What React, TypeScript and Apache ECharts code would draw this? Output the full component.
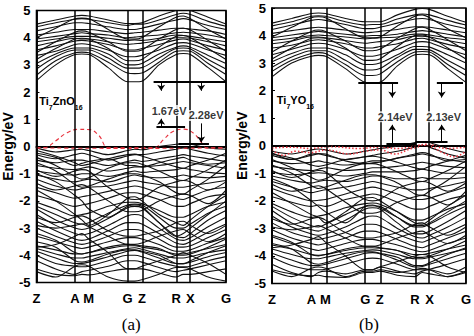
import { useEffect, useRef } from 'react';
import * as echarts from 'echarts';

// High-symmetry path (fractional position along the k-path)
const kLabels = ['Z', 'A', 'M', 'G', 'Z', 'R', 'X', 'G'];
const kNodes = [0, 0.203, 0.276, 0.481, 0.556, 0.737, 0.812, 1];
// sample points: nodes and the middle of every segment
const kGrid = [0, 0.1015, 0.203, 0.2395, 0.276, 0.3785, 0.481, 0.5185, 0.556, 0.6465, 0.737, 0.7745, 0.812, 0.906, 1];

// ---------- (a) Ti7ZnO16 ----------
const condA = [
  [2.42, 3.0, 3.38, 3.4, 3.38, 2.9, 2.38, 2.38, 2.4, 3.0, 3.38, 3.42, 3.38, 2.9, 2.38],
  [2.62, 3.15, 3.45, 3.47, 3.45, 3.1, 2.7, 2.68, 2.7, 3.1, 3.5, 3.52, 3.5, 3.05, 2.65],
  [2.85, 3.3, 3.55, 3.55, 3.55, 3.25, 2.88, 2.88, 2.9, 3.25, 3.6, 3.62, 3.58, 3.2, 2.85],
  [3.05, 3.4, 3.62, 3.62, 3.62, 3.4, 3.0, 3.0, 3.05, 3.4, 3.65, 3.7, 3.65, 3.35, 3.05],
  [3.35, 3.5, 3.75, 3.78, 3.75, 3.55, 3.3, 3.3, 3.35, 3.55, 3.8, 3.82, 3.78, 3.55, 3.35],
  [3.55, 3.7, 3.88, 3.9, 3.88, 3.75, 3.55, 3.55, 3.6, 3.75, 3.92, 3.95, 3.9, 3.7, 3.55],
  [3.7, 3.85, 3.98, 3.95, 3.95, 3.85, 3.75, 3.78, 3.8, 3.9, 4.0, 4.0, 3.98, 3.85, 3.7],
  [3.85, 3.95, 4.05, 4.05, 4.05, 3.98, 3.9, 3.92, 3.9, 3.98, 4.1, 4.08, 4.05, 3.95, 3.85],
  [3.95, 4.05, 4.15, 4.18, 4.15, 4.1, 4.0, 4.02, 4.05, 4.1, 4.18, 4.2, 4.18, 4.1, 3.98],
  [4.1, 4.2, 4.3, 4.3, 4.3, 4.22, 4.15, 4.18, 4.2, 4.28, 4.35, 4.35, 4.32, 4.25, 4.12],
  [4.25, 4.4, 4.55, 4.55, 4.52, 4.4, 4.3, 4.3, 4.35, 4.5, 4.65, 4.7, 4.65, 4.45, 4.3],
  [4.4, 4.55, 4.68, 4.7, 4.68, 4.55, 4.45, 4.5, 4.5, 4.65, 4.85, 4.9, 4.85, 4.6, 4.42],
  [4.5, 4.65, 4.8, 4.82, 4.8, 4.65, 4.52, 4.52, 4.55, 4.8, 5.0, 5.05, 5.0, 4.75, 4.5],
  [3.2, 3.6, 3.95, 3.98, 3.95, 3.6, 3.15, 3.15, 3.2, 3.65, 4.05, 4.08, 4.0, 3.6, 3.2],
  [3.45, 3.85, 4.2, 4.25, 4.2, 3.85, 3.5, 3.5, 3.55, 3.95, 4.3, 4.35, 4.28, 3.9, 3.5],
  [4.0, 4.35, 4.7, 4.72, 4.7, 4.3, 3.95, 3.95, 4.0, 4.4, 4.75, 4.8, 4.7, 4.3, 3.95],
];
const valA = [
  [-0.05, -0.2, -0.12, -0.1, -0.15, -0.3, -0.15, -0.1, -0.12, 0.0, 0.08, 0.1, 0.08, -0.05, -0.1],
  [-0.3, -0.45, -0.3, -0.25, -0.3, -0.5, -0.35, -0.3, -0.3, -0.2, -0.1, -0.05, -0.1, -0.25, -0.35],
  [-0.5, -0.6, -0.5, -0.5, -0.55, -0.7, -0.55, -0.5, -0.55, -0.45, -0.35, -0.3, -0.35, -0.45, -0.55],
  [-0.7, -0.8, -0.85, -0.8, -0.75, -0.9, -0.8, -0.75, -0.75, -0.7, -0.6, -0.55, -0.6, -0.7, -0.8],
  [-0.9, -1.0, -1.05, -1.0, -1.0, -1.1, -0.95, -0.9, -0.95, -0.9, -0.85, -0.8, -0.85, -0.95, -1.0],
  [-1.05, -1.2, -1.3, -1.25, -1.2, -1.3, -1.1, -1.05, -1.1, -1.15, -1.1, -1.05, -1.1, -1.15, -1.1],
  [-1.2, -1.45, -1.6, -1.55, -1.5, -1.45, -1.3, -1.25, -1.3, -1.4, -1.5, -1.5, -1.45, -1.35, -1.25],
  [-1.5, -1.7, -1.9, -1.85, -1.8, -1.65, -1.5, -1.45, -1.5, -1.7, -1.9, -1.95, -1.85, -1.6, -1.5],
  [-1.8, -2.0, -2.2, -2.15, -2.1, -1.9, -1.7, -1.7, -1.75, -1.95, -2.2, -2.2, -2.1, -1.85, -1.75],
  [-2.05, -2.3, -2.55, -2.5, -2.45, -2.2, -2.05, -2.05, -2.1, -2.35, -2.6, -2.6, -2.5, -2.2, -2.05],
  [-2.2, -2.5, -2.8, -2.85, -2.8, -2.45, -2.15, -2.12, -2.15, -2.6, -3.0, -3.0, -2.85, -2.45, -2.2],
  [-2.3, -2.7, -3.0, -3.05, -3.0, -2.65, -2.25, -2.2, -2.25, -2.8, -3.3, -3.35, -3.2, -2.7, -2.35],
  [-2.5, -2.9, -3.2, -3.25, -3.2, -2.9, -2.55, -2.5, -2.55, -3.0, -3.4, -3.45, -3.35, -2.95, -2.6],
  [-2.75, -3.1, -3.4, -3.45, -3.4, -3.1, -2.8, -2.8, -2.85, -3.2, -3.55, -3.6, -3.5, -3.15, -2.85],
  [-3.0, -3.3, -3.55, -3.6, -3.55, -3.3, -3.05, -3.05, -3.1, -3.4, -3.7, -3.7, -3.65, -3.35, -3.05],
  [-3.3, -3.5, -3.7, -3.75, -3.7, -3.5, -3.35, -3.35, -3.4, -3.6, -3.85, -3.85, -3.8, -3.55, -3.35],
  [-3.65, -3.8, -3.95, -3.95, -3.9, -3.75, -3.65, -3.65, -3.7, -3.8, -3.95, -3.95, -3.9, -3.75, -3.6],
  [-3.75, -3.95, -4.1, -4.1, -4.05, -3.9, -3.75, -3.72, -3.78, -3.95, -4.1, -4.1, -4.05, -3.9, -3.8],
  [-3.85, -4.1, -4.3, -4.3, -4.25, -4.05, -3.85, -3.82, -3.88, -4.1, -4.3, -4.3, -4.25, -4.05, -3.9],
  [-4.0, -4.3, -4.4, -4.42, -4.4, -4.2, -4.0, -4.0, -4.05, -4.25, -4.4, -4.42, -4.4, -4.2, -4.05],
  [-4.2, -4.5, -4.7, -4.6, -4.55, -4.4, -4.2, -4.2, -4.25, -4.45, -4.6, -4.55, -4.5, -4.35, -4.2],
  [-4.5, -4.7, -4.75, -4.7, -4.72, -4.6, -4.5, -4.5, -4.5, -4.65, -4.8, -4.7, -4.7, -4.6, -4.5],
  [-1.0, -1.3, -1.8, -2.0, -2.3, -2.6, -2.2, -2.15, -2.2, -2.8, -3.3, -3.2, -3.0, -2.5, -2.0],
  [-3.7, -3.6, -3.3, -3.2, -3.4, -3.9, -4.5, -4.5, -4.4, -4.2, -4.0, -3.9, -4.0, -4.3, -4.7],
  [-1.6, -2.0, -2.5, -2.7, -2.9, -2.5, -1.9, -1.85, -2.0, -2.5, -2.8, -2.9, -2.7, -2.2, -1.8],
  [-0.15, -0.35, -0.6, -0.7, -0.65, -0.45, -0.3, -0.28, -0.35, -0.55, -0.75, -0.8, -0.7, -0.5, -0.25],
  [-0.4, -0.7, -1.1, -1.2, -1.15, -0.8, -0.6, -0.6, -0.65, -0.9, -1.2, -1.25, -1.15, -0.85, -0.5],
  [-0.6, -0.9, -1.4, -1.5, -1.45, -1.2, -1.0, -1.0, -1.05, -1.3, -1.7, -1.75, -1.6, -1.2, -0.7],
  [-0.85, -1.1, -0.9, -0.85, -0.9, -1.5, -1.9, -1.95, -1.9, -1.5, -1.3, -1.25, -1.3, -1.6, -1.3],
  [-1.35, -1.6, -1.45, -1.4, -1.5, -2.0, -2.4, -2.4, -2.35, -2.0, -1.8, -1.75, -1.8, -2.1, -1.6],
  [-2.6, -2.8, -2.6, -2.55, -2.65, -3.1, -3.3, -3.3, -3.25, -3.1, -2.8, -2.75, -2.9, -3.2, -2.9],
  [-2.9, -3.0, -2.9, -2.85, -2.95, -3.3, -3.6, -3.6, -3.55, -3.3, -3.1, -3.05, -3.2, -3.5, -3.2],
  [-3.2, -3.45, -3.9, -3.95, -3.9, -3.7, -3.6, -3.62, -3.65, -3.75, -4.0, -4.0, -3.95, -3.7, -3.4],
  [-3.5, -3.7, -4.2, -4.25, -4.2, -3.95, -3.8, -3.8, -3.85, -4.0, -4.3, -4.32, -4.2, -3.9, -3.65],
  [-4.6, -4.8, -4.4, -4.35, -4.4, -4.8, -4.95, -4.95, -4.9, -4.7, -4.45, -4.45, -4.5, -4.8, -4.95],
  [-0.25, -0.4, -0.7, -0.62, -0.55, -0.45, -0.7, -0.7, -0.75, -0.6, -0.45, -0.4, -0.5, -0.65, -0.6],
];
// impurity band (red dashed) and its flat partner
const redA1 = [[0, -0.05], [0.05, -0.03], [0.1, 0.2], [0.16, 0.5], [0.22, 0.63], [0.28, 0.62], [0.33, 0.4], [0.38, -0.05], [0.62, -0.05], [0.67, 0.25], [0.72, 0.55], [0.78, 0.64], [0.83, 0.48], [0.87, 0.15], [0.9, -0.05], [1, -0.05]];
const redA2 = [[0, -0.05], [0.5, -0.07], [1, -0.05]];
const gapLinesA = [[0.618, 1.0, 2.38], [0.633, 0.784, 0.71], [0.749, 0.91, 0.1]];
const arrowsA = [[0.658, 2.38, 2.05], [0.658, 0.71, 1.02], [0.869, 2.38, 2.05], [0.869, 0.85, 0.15]];
const gapTextA = [[0.70, 1.32, '1.67eV'], [0.895, 1.14, '2.28eV']];

// ---------- (b) Ti7YO16 ----------
const condB = [
  [2.5, 3.0, 3.25, 3.28, 3.25, 2.8, 2.3, 2.28, 2.3, 2.9, 3.3, 3.32, 3.3, 2.8, 2.3],
  [2.7, 3.1, 3.35, 3.38, 3.35, 2.95, 2.55, 2.55, 2.6, 3.05, 3.4, 3.42, 3.4, 2.95, 2.55],
  [2.85, 3.22, 3.45, 3.45, 3.45, 3.1, 2.75, 2.75, 2.8, 3.2, 3.5, 3.5, 3.48, 3.1, 2.75],
  [3.05, 3.35, 3.55, 3.55, 3.55, 3.3, 2.95, 2.95, 3.0, 3.3, 3.6, 3.6, 3.58, 3.3, 3.0],
  [3.3, 3.5, 3.7, 3.72, 3.7, 3.5, 3.25, 3.25, 3.3, 3.5, 3.75, 3.78, 3.75, 3.5, 3.3],
  [3.55, 3.65, 3.82, 3.85, 3.82, 3.7, 3.55, 3.55, 3.6, 3.7, 3.88, 3.9, 3.85, 3.68, 3.55],
  [3.7, 3.8, 3.95, 3.95, 3.92, 3.82, 3.72, 3.75, 3.78, 3.85, 3.98, 3.98, 3.95, 3.82, 3.7],
  [3.82, 3.9, 4.0, 4.02, 4.0, 3.95, 3.88, 3.9, 3.92, 3.95, 4.05, 4.05, 4.02, 3.92, 3.85],
  [3.92, 4.02, 4.12, 4.15, 4.12, 4.05, 3.98, 4.0, 4.0, 4.05, 4.15, 4.18, 4.15, 4.05, 3.95],
  [4.08, 4.18, 4.28, 4.3, 4.28, 4.2, 4.1, 4.12, 4.15, 4.22, 4.32, 4.32, 4.3, 4.2, 4.1],
  [4.22, 4.38, 4.55, 4.58, 4.55, 4.4, 4.25, 4.25, 4.3, 4.45, 4.6, 4.62, 4.58, 4.4, 4.25],
  [4.35, 4.5, 4.7, 4.72, 4.7, 4.5, 4.38, 4.4, 4.4, 4.6, 4.75, 4.78, 4.75, 4.55, 4.38],
  [4.45, 4.62, 4.8, 4.82, 4.8, 4.62, 4.5, 4.5, 4.5, 4.75, 4.95, 4.98, 4.95, 4.7, 4.48],
  [3.15, 3.55, 3.9, 3.92, 3.9, 3.55, 3.1, 3.1, 3.15, 3.6, 4.0, 4.02, 3.95, 3.55, 3.15],
  [3.4, 3.8, 4.15, 4.2, 4.15, 3.8, 3.45, 3.45, 3.5, 3.9, 4.25, 4.3, 4.22, 3.85, 3.45],
  [3.95, 4.3, 4.65, 4.68, 4.65, 4.25, 3.92, 3.92, 3.95, 4.35, 4.7, 4.75, 4.65, 4.25, 3.92],
];
const valB = [
  [-0.2, -0.3, -0.15, -0.12, -0.15, -0.3, -0.2, -0.15, -0.1, -0.02, 0.12, 0.15, 0.12, -0.1, -0.25],
  [-0.35, -0.5, -0.35, -0.3, -0.35, -0.5, -0.4, -0.35, -0.3, -0.2, -0.05, 0.02, -0.05, -0.3, -0.45],
  [-0.55, -0.65, -0.6, -0.55, -0.6, -0.7, -0.6, -0.55, -0.55, -0.45, -0.35, -0.3, -0.35, -0.5, -0.6],
  [-0.75, -0.85, -0.9, -0.85, -0.8, -0.9, -0.85, -0.8, -0.8, -0.75, -0.65, -0.6, -0.65, -0.75, -0.8],
  [-0.95, -1.05, -1.0, -0.98, -1.0, -1.1, -1.0, -0.95, -0.95, -0.95, -0.9, -0.85, -0.9, -1.0, -1.0],
  [-1.1, -1.25, -1.35, -1.3, -1.25, -1.3, -1.15, -1.1, -1.1, -1.2, -1.2, -1.15, -1.2, -1.2, -1.15],
  [-1.3, -1.5, -1.7, -1.65, -1.6, -1.5, -1.35, -1.3, -1.35, -1.5, -1.6, -1.6, -1.55, -1.45, -1.3],
  [-1.55, -1.8, -2.0, -1.98, -1.95, -1.75, -1.55, -1.5, -1.55, -1.75, -1.95, -1.95, -1.9, -1.7, -1.5],
  [-1.85, -2.05, -2.2, -2.15, -2.2, -1.95, -1.8, -1.75, -1.8, -2.05, -2.3, -2.3, -2.2, -1.95, -1.8],
  [-2.1, -2.4, -2.6, -2.55, -2.5, -2.25, -2.1, -2.08, -2.12, -2.4, -2.7, -2.7, -2.6, -2.3, -2.1],
  [-2.2, -2.6, -2.9, -2.95, -2.85, -2.5, -2.2, -2.18, -2.2, -2.6, -2.95, -2.95, -2.85, -2.5, -2.2],
  [-2.35, -2.8, -3.05, -3.1, -3.0, -2.7, -2.3, -2.25, -2.3, -2.8, -3.2, -3.2, -3.1, -2.75, -2.35],
  [-2.55, -2.95, -3.2, -3.25, -3.2, -2.95, -2.6, -2.55, -2.6, -3.0, -3.3, -3.35, -3.25, -2.95, -2.6],
  [-2.8, -3.15, -3.35, -3.4, -3.35, -3.15, -2.85, -2.85, -2.9, -3.2, -3.45, -3.5, -3.4, -3.15, -2.85],
  [-3.05, -3.35, -3.55, -3.6, -3.55, -3.35, -3.1, -3.1, -3.15, -3.4, -3.65, -3.7, -3.6, -3.35, -3.1],
  [-3.3, -3.55, -3.75, -3.8, -3.75, -3.55, -3.4, -3.4, -3.45, -3.6, -3.8, -3.85, -3.8, -3.55, -3.35],
  [-3.6, -3.75, -3.95, -3.98, -3.95, -3.8, -3.7, -3.7, -3.72, -3.8, -3.95, -3.95, -3.9, -3.75, -3.6],
  [-3.75, -3.95, -4.1, -4.1, -4.05, -3.9, -3.8, -3.78, -3.8, -3.95, -4.1, -4.1, -4.05, -3.9, -3.75],
  [-3.9, -4.15, -4.35, -4.35, -4.3, -4.1, -3.9, -3.88, -3.92, -4.15, -4.4, -4.38, -4.3, -4.1, -3.9],
  [-4.05, -4.35, -4.5, -4.5, -4.48, -4.3, -4.1, -4.08, -4.1, -4.3, -4.5, -4.5, -4.48, -4.3, -4.1],
  [-4.3, -4.6, -4.75, -4.6, -4.55, -4.65, -4.5, -4.5, -4.4, -4.55, -4.65, -4.55, -4.5, -4.65, -4.4],
  [-4.5, -4.65, -4.72, -4.7, -4.75, -4.78, -4.6, -4.6, -4.55, -4.7, -4.75, -4.6, -4.65, -4.75, -4.55],
  [-1.2, -1.5, -2.0, -2.2, -2.4, -2.8, -2.2, -2.15, -2.25, -2.6, -2.9, -2.9, -2.8, -2.4, -2.0],
  [-3.7, -3.6, -3.4, -3.3, -3.5, -4.0, -4.5, -4.5, -4.4, -4.2, -4.0, -3.95, -4.0, -4.4, -4.6],
  [-1.7, -2.1, -2.5, -2.6, -2.8, -2.4, -1.9, -1.88, -2.0, -2.4, -2.8, -2.85, -2.7, -2.2, -1.8],
  [-0.3, -0.45, -0.7, -0.75, -0.7, -0.5, -0.4, -0.38, -0.42, -0.6, -0.8, -0.85, -0.75, -0.55, -0.35],
  [-0.5, -0.8, -1.15, -1.25, -1.2, -0.85, -0.65, -0.65, -0.7, -0.95, -1.25, -1.3, -1.2, -0.9, -0.55],
  [-0.7, -1.0, -1.45, -1.55, -1.5, -1.25, -1.05, -1.05, -1.1, -1.35, -1.75, -1.8, -1.65, -1.25, -0.75],
  [-0.9, -1.15, -0.95, -0.9, -0.95, -1.55, -1.95, -2.0, -1.95, -1.55, -1.35, -1.3, -1.35, -1.65, -1.35],
  [-1.4, -1.65, -1.5, -1.45, -1.55, -2.05, -2.45, -2.45, -2.4, -2.05, -1.85, -1.8, -1.85, -2.15, -1.65],
  [-2.65, -2.85, -2.65, -2.6, -2.7, -3.15, -3.35, -3.35, -3.3, -3.15, -2.85, -2.8, -2.95, -3.25, -2.95],
  [-2.95, -3.05, -2.95, -2.9, -3.0, -3.35, -3.65, -3.65, -3.6, -3.35, -3.15, -3.1, -3.25, -3.55, -3.25],
  [-3.25, -3.5, -3.95, -4.0, -3.95, -3.75, -3.65, -3.65, -3.7, -3.8, -4.05, -4.05, -4.0, -3.75, -3.45],
  [-3.55, -3.75, -4.25, -4.3, -4.25, -4.0, -3.85, -3.85, -3.9, -4.05, -4.35, -4.35, -4.25, -3.95, -3.7],
  [-4.55, -4.75, -4.45, -4.4, -4.45, -4.75, -4.55, -4.55, -4.5, -4.6, -4.5, -4.45, -4.5, -4.75, -4.6],
  [-0.25, -0.5, -0.3, -0.28, -0.3, -0.55, -0.65, -0.62, -0.6, -0.45, -0.3, -0.25, -0.3, -0.55, -0.5],
];
const redB1 = [[0, -0.08], [0.1, -0.05], [0.2, -0.1], [0.3, -0.03], [0.45, -0.1], [0.55, -0.05], [0.65, -0.1], [0.8, 0.05], [0.9, -0.1], [1, -0.05]];
const redB2 = [[0, -0.15], [0.06, -0.35], [0.12, -0.2], [0.2, -0.25], [0.28, -0.15], [0.4, -0.3], [0.48, -0.2], [0.56, -0.15], [0.63, -0.3], [0.72, -0.1], [0.8, 0], [0.88, -0.25], [0.94, -0.4], [1, -0.2]];
const gapLinesB = [[0.445, 0.65, 2.28], [0.85, 0.985, 2.28], [0.59, 0.745, 0.07], [0.74, 0.905, 0.16]];
const arrowsB = [[0.62, 2.28, 1.75], [0.62, 0.07, 0.76], [0.875, 2.28, 1.75], [0.875, 0.16, 0.76]];
const gapTextB = [[0.635, 1.05, '2.14eV'], [0.885, 1.05, '2.13eV']];

// compound labels: [panel, k, energy, main parts / subscripts]
const formulas = [
  { panel: 0, k: 0.015, e: 1.65, text: '{n|Ti}{s|7}{n|ZnO}{s|16}' },
  { panel: 1, k: 0.025, e: 1.63, text: '{n|Ti}{s|7}{n|YO}{s|16}' },
];
const captions = ['(a)', '(b)'];

const yTicks = { min: -5, max: 5, interval: 1 };
const NARROW = '"Liberation Sans Narrow", "Arial Narrow", "Liberation Sans", sans-serif';

function panelSeries(p: number, cond: number[][], val: number[][], reds: { data: number[][]; type: string }[],
  gapLines: number[][], arrows: number[][], gapText: any[]) {
  const s: any[] = [];
  [...cond, ...val].forEach((band) => {
    s.push({
      type: 'line', xAxisIndex: p, yAxisIndex: p, silent: true, symbol: 'none', smooth: 0.3,
      data: kGrid.map((k, i) => [k, band[i]]),
      lineStyle: { color: '#111', width: 1.1 }, z: 2,
    });
  });
  reds.forEach((r) => {
    s.push({
      type: 'line', xAxisIndex: p, yAxisIndex: p, silent: true, symbol: 'none', smooth: 0.4,
      data: r.data, lineStyle: { color: '#e8343f', width: r.type === 'dotted' ? 1.6 : 1.1, type: r.type === 'dotted' ? [1.5, 2] : [4, 3] }, z: 3,
    });
  });
  s.push({
    type: 'line', xAxisIndex: p, yAxisIndex: p, silent: true, data: [],
    markLine: {
      silent: true, symbol: ['none', 'none'], label: { show: false }, animation: false,
      data: [
        ...kNodes.map((k) => ({ xAxis: k, lineStyle: { color: '#000', width: 1.5, type: 'solid' } })),
        { yAxis: 0, lineStyle: { color: '#000', width: 1, type: [2, 2] } },
        ...gapLines.map((g) => [{ coord: [g[0], g[2]], lineStyle: { color: '#000', width: 2, type: 'solid' } }, { coord: [g[1], g[2]] }]),
        ...arrows.map((a) => [
          { coord: [a[0], a[1]], symbol: 'none', lineStyle: { color: '#000', width: 1, type: 'solid' } },
          { coord: [a[0], a[2]], symbol: 'arrow', symbolSize: 6 },
        ]),
      ],
    },
    z: 4,
  });
  s.push({
    type: 'scatter', xAxisIndex: p, yAxisIndex: p, silent: true, symbolSize: 0,
    itemStyle: { color: '#000' },
    data: gapText.map((t) => ({ value: [t[0], t[1]], name: t[2] })),
    label: { show: true, position: 'inside', formatter: (d: any) => d.name, color: '#000', fontWeight: 'bold', fontSize: 11, fontFamily: NARROW, backgroundColor: '#fff', padding: [0, 1] },
    z: 5,
  });
  return s;
}

export default function App() {
  const ref = useRef<HTMLDivElement>(null);
  useEffect(() => {
    if (!ref.current) return;
    const chart = echarts.init(ref.current, null, { renderer: 'svg' });
    const grids = [
      { left: 27, top: 10.5, width: 199, height: 272 },
      { left: 272, top: 8, width: 200, height: 275.5 },
    ];
    const xAxes = grids.map((_, p) => ({
      type: 'value', gridIndex: p, min: 0, max: 1,
      axisLine: { show: true, lineStyle: { color: '#000', width: 2 } },
      axisTick: { show: false },
      splitLine: { show: false },
      axisLabel: {
        customValues: kNodes, margin: 9, color: '#000', fontWeight: 'bold', fontSize: 13, fontFamily: NARROW,
        formatter: (v: number) => { const i = kNodes.findIndex((k) => Math.abs(k - v) < 1e-6); return i >= 0 ? kLabels[i] : ''; },
      },
    }));
    const yAxes = grids.map((_, p) => ({
      type: 'value', gridIndex: p, ...yTicks,
      name: 'Energy/eV', nameLocation: 'middle', nameGap: p === 0 ? 19 : 23,
      nameTextStyle: { color: '#000', fontWeight: 'bold', fontSize: 14, fontFamily: '"Liberation Sans", sans-serif' },
      axisLine: { show: true, lineStyle: { color: '#000', width: 1.5 } },
      axisTick: { show: true, inside: true, length: 3, lineStyle: { color: '#000' } },
      splitLine: { show: false },
      axisLabel: { margin: 6, color: '#000', fontWeight: 'bold', fontSize: 13, fontFamily: NARROW },
    }));
    const series = [
      ...panelSeries(0, condA, valA, [{ data: redA1, type: 'dashed' }, { data: redA2, type: 'dashed' }], gapLinesA, arrowsA, gapTextA),
      ...panelSeries(1, condB, valB, [{ data: redB1, type: 'dotted' }, { data: redB2, type: 'dotted' }], gapLinesB, arrowsB, gapTextB),
    ];
    chart.setOption({
      animation: false,
      backgroundColor: '#fff',
      grid: grids.map((g) => ({ ...g, show: true, borderColor: '#000', borderWidth: 1.5, backgroundColor: 'transparent' })),
      xAxis: xAxes,
      yAxis: yAxes,
      series,
    });
    const formulaGraphics = formulas.map((f) => {
      const [px, py] = chart.convertToPixel({ gridIndex: f.panel }, [f.k, f.e]) as number[];
      return {
        type: 'text', x: px, y: py, z: 10,
        style: {
          text: f.text, fill: '#000', verticalAlign: 'middle', align: 'left',
          rich: {
            n: { fontSize: 11, fontWeight: 'bold', fontFamily: NARROW, fill: '#000', verticalAlign: 'top', lineHeight: 13 },
            s: { fontSize: 7, fontWeight: 'bold', fontFamily: NARROW, fill: '#000', verticalAlign: 'top', lineHeight: 8, padding: [9, 0, 0, 0] },
          },
        },
      };
    });
    const captionGraphics = captions.map((c, p) => {
      const [cx] = chart.convertToPixel({ gridIndex: p }, [0.5, 0]) as number[];
      return {
        type: 'text', x: cx, y: 324, z: 10,
        style: { text: c, font: '17px "Liberation Serif", "DejaVu Serif", serif', fill: '#000', align: 'center', verticalAlign: 'middle' },
      };
    });
    chart.setOption({ graphic: [...formulaGraphics, ...captionGraphics] });
    return () => chart.dispose();
  }, []);
  return <div ref={ref} style={{ position: 'fixed', left: 0, top: 0, width: 474, height: 336 }} />;
}
